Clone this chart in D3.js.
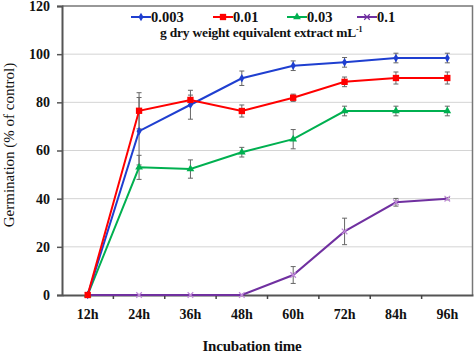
<!DOCTYPE html>
<html>
<head>
<meta charset="utf-8">
<script src="https://cdn.jsdelivr.net/npm/d3@7"></script>
<style>
  body { margin: 0; background: #fff; }
  svg { display: block; }
</style>
</head>
<body>
<div id="chart"></div>
<script>
// data
const times = ['12h', '24h', '36h', '48h', '60h', '72h', '84h', '96h'];
const seriesNames = ['0.003', '0.01', '0.03', '0.1'];
const seriesColors = ['#1f3fd0', '#ff0000', '#00b050', '#7030a0'];
const seriesSymbols = ['diamond', 'square', 'triangle', 'cross'];
const v0003 = [0, 68, 79, 90, 95.2, 96.6, 98.4, 98.4];
const e0003 = [0, 14, 6, 3, 2, 2, 2, 2];
const v001 = [0, 76.5, 81, 76.4, 81.9, 88.5, 90.1, 90.1];
const e001 = [0, 7.5, 2, 2.5, 1.5, 2, 2.5, 2.5];
const v003 = [0, 53, 52.3, 59.3, 64.7, 76.4, 76.4, 76.4];
const e003 = [0, 5, 3.8, 2, 4, 2, 2, 2];
const v01 = [0, 0, 0, 0, 8.3, 26.4, 38.5, 40];
const e01 = [0, 0, 0, 0, 3.5, 5.5, 1.6, 0.5];
const yTicks = [0, 20, 40, 60, 80, 100, 120];

const width = 474, height = 353;
const margin = { top: 6, right: 1, bottom: 58, left: 62 };
const serif = 'Liberation Serif';

const svg = d3.select('#chart').append('svg')
  .attr('width', width)
  .attr('height', height);

// スケール ------------------------------------------------------------
const xScale = d3.scaleBand()
  .domain(times)
  .range([margin.left, width - margin.right]);
const xPos = t => xScale(t) + xScale.bandwidth() / 2;
const yScale = d3.scaleLinear()
  .domain([0, 120])
  .range([height - margin.bottom, margin.top]);

// グリッド
svg.append('g')
  .selectAll('line')
  .data(yTicks.filter(d => d > 0 && d < 120))
  .enter().append('line')
  .attr('x1', margin.left)
  .attr('x2', width - margin.right)
  .attr('y1', d => yScale(d))
  .attr('y2', d => yScale(d))
  .attr('stroke', '#d4d4d4')
  .attr('stroke-width', 1);

// 枠 (top / right)
svg.append('path')
  .attr('d', 'M' + margin.left + ',' + yScale(120) + 'H' + (width - margin.right - 0.5) + 'V' + yScale(0))
  .attr('fill', 'none')
  .attr('stroke', '#777')
  .attr('stroke-width', 1.5);

// x軸
const xAxis = svg.append('g')
  .attr('transform', 'translate(0,' + yScale(0) + ')')
  .call(d3.axisBottom(xScale).tickSize(0).tickPadding(14))
  .attr('font-family', serif)
  .attr('font-size', 14)
  .attr('font-weight', 'bold');
xAxis.select('.domain').attr('stroke', '#555').attr('stroke-width', 2);
xAxis.selectAll('text').attr('fill', '#111');
// 区切り目盛
xAxis.append('g')
  .selectAll('line')
  .data(times.slice(1))
  .enter().append('line')
  .attr('x1', d => xScale(d))
  .attr('x2', d => xScale(d))
  .attr('y1', 0)
  .attr('y2', 4)
  .attr('stroke', '#444')
  .attr('stroke-width', 1.5);

// y軸
const yAxis = svg.append('g')
  .attr('transform', 'translate(' + margin.left + ',0)')
  .call(d3.axisLeft(yScale).tickValues(yTicks).tickSize(5).tickPadding(7))
  .attr('font-family', serif)
  .attr('font-size', 14)
  .attr('font-weight', 'bold');
yAxis.select('.domain').attr('stroke', '#555').attr('stroke-width', 2);
yAxis.selectAll('.tick line').attr('stroke', '#555').attr('stroke-width', 1.5);
yAxis.selectAll('text').attr('fill', '#111');

// 軸タイトル
svg.append('text')
  .attr('transform', 'translate(14,' + 145 + ') rotate(-90)')
  .attr('text-anchor', 'middle')
  .attr('font-family', serif)
  .attr('font-size', 15)
  .attr('fill', '#111')
  .text('Germination (% of control)');
svg.append('text')
  .attr('x', 252)
  .attr('y', 351)
  .attr('text-anchor', 'middle')
  .attr('font-family', serif)
  .attr('font-weight', 'bold')
  .attr('font-size', 15)
  .attr('letter-spacing', '-0.2px')
  .attr('fill', '#111')
  .text('Incubation time');

// シリーズ ---------------------------------------------------------------
const values = [v0003, v001, v003, v01];
const errors = [e0003, e001, e003, e01];
const symbolType = {
  diamond: d3.symbolDiamond, square: d3.symbolSquare,
  triangle: d3.symbolTriangle, cross: d3.symbolTimes
};
const symbolSize = { diamond: 22, square: 40, triangle: 26, cross: 22 };

function drawMarker (g, kind, color) {
  const p = g.append('path')
    .attr('d', d3.symbol().type(symbolType[kind]).size(symbolSize[kind])());
  if (kind === 'cross') {
    p.attr('fill', 'none').attr('stroke', color).attr('stroke-width', 1.2);
  } else {
    p.attr('fill', color);
  }
}

const seriesData = seriesNames.map((name, i) => times.map((t, j) => ({
  t: t, v: values[i][j], e: errors[i][j]
})));

// 誤差棒
seriesData.forEach(data => {
  const eg = svg.append('g');
  data.filter(d => d.e > 0).forEach(d => {
    const x = xPos(d.t);
    const y1 = yScale(d.v + d.e), y2 = yScale(d.v - d.e);
    eg.append('line').attr('x1', x).attr('x2', x).attr('y1', y1).attr('y2', y2)
      .attr('stroke', '#666').attr('stroke-width', 1);
    [y1, y2].forEach(y => {
      eg.append('line').attr('x1', x - 2.5).attr('x2', x + 2.5).attr('y1', y).attr('y2', y)
        .attr('stroke', '#666').attr('stroke-width', 1);
    });
  });
});

// 線とマーカー (0.1 を先に描く)
[3, 2, 0, 1].forEach(i => {
  const data = seriesData[i];
  const color = seriesColors[i];
  svg.append('path')
    .datum(data)
    .attr('fill', 'none')
    .attr('stroke', color)
    .attr('stroke-width', 2)
    .attr('d', d3.line().x(d => xPos(d.t)).y(d => yScale(d.v)));
  data.forEach(d => {
    const g = svg.append('g').attr('transform', 'translate(' + xPos(d.t) + ',' + yScale(d.v) + ')');
    drawMarker(g, seriesSymbols[i], seriesSymbols[i] === 'cross' ? '#c08ad8' : color);
  });
});

// 凡例 ---------------------------------------------------------------------
const legendX = [131, 213, 287, 357];
const legend = svg.append('g');
seriesNames.forEach((name, i) => {
  const g = legend.append('g').attr('transform', 'translate(' + legendX[i] + ',17)');
  g.append('line').attr('x1', 0).attr('x2', 20).attr('y1', 0).attr('y2', 0)
    .attr('stroke', seriesColors[i]).attr('stroke-width', 2);
  const m = g.append('g').attr('transform', 'translate(10,0)');
  drawMarker(m, seriesSymbols[i], seriesColors[i]);
  g.append('text')
    .attr('x', 20)
    .attr('y', 5)
    .attr('font-family', serif)
    .attr('font-weight', 'bold')
    .attr('font-size', 14.5)
    .attr('fill', '#111')
    .text(name);
});
const sub = legend.append('text')
  .attr('x', 160)
  .attr('y', 37)
  .attr('font-family', serif)
  .attr('font-weight', 'bold')
  .attr('font-size', 13.5)
  .attr('letter-spacing', '-0.2px')
  .attr('fill', '#111')
  .text('g dry weight equivalent extract mL');
sub.append('tspan')
  .attr('dy', -5)
  .attr('font-size', 8)
  .text('-1');
</script>
</body>
</html>
